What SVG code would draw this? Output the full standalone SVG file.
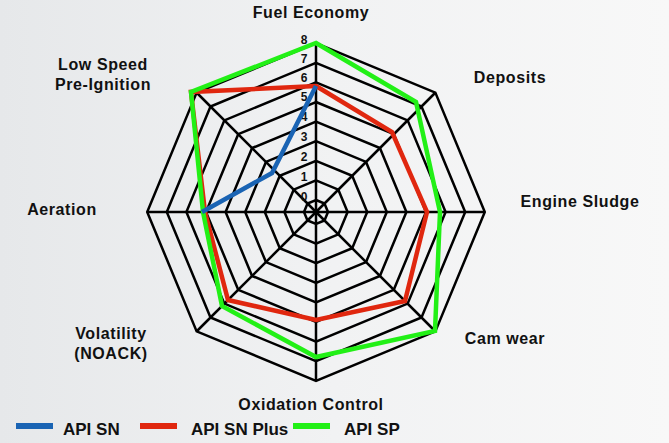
<svg xmlns="http://www.w3.org/2000/svg" width="669" height="443" viewBox="0 0 669 443">
<defs>
<linearGradient id="bg" x1="0" y1="0" x2="1" y2="0"><stop offset="0" stop-color="#e6e8ea"/><stop offset="0.5" stop-color="#f1f2f3"/><stop offset="1" stop-color="#f8f8f8"/></linearGradient>
</defs>
<style>
.ring{fill:none;stroke:#000;stroke-width:2.5}
.spoke{stroke:#000;stroke-width:2.5}
.lbl{font-family:"Liberation Sans",Arial,sans-serif;font-weight:bold;font-size:16px;letter-spacing:0.6px;fill:#111}
.leg{font-family:"Liberation Sans",Arial,sans-serif;font-weight:bold;font-size:17px;fill:#111}
.tick{font-family:"Liberation Sans",Arial,sans-serif;font-weight:bold;font-size:12px;fill:#111;text-anchor:middle}
.ser{fill:none;stroke-width:4.5;stroke-linejoin:miter}
</style>
<rect width="669" height="443" fill="url(#bg)"/>
<g id="grid" transform="translate(316,212)">
<polygon class="ring" points="0,-12 8.49,-8.49 12,0 8.49,8.49 0,12 -8.49,8.49 -12,0 -8.49,-8.49"/>
<polygon class="ring" points="0,-31.6 22.34,-22.34 31.6,0 22.34,22.34 0,31.6 -22.34,22.34 -31.6,0 -22.34,-22.34"/>
<polygon class="ring" points="0,-51.2 36.2,-36.2 51.2,0 36.2,36.2 0,51.2 -36.2,36.2 -51.2,0 -36.2,-36.2"/>
<polygon class="ring" points="0,-70.8 50.06,-50.06 70.8,0 50.06,50.06 0,70.8 -50.06,50.06 -70.8,0 -50.06,-50.06"/>
<polygon class="ring" points="0,-90.4 63.92,-63.92 90.4,0 63.92,63.92 0,90.4 -63.92,63.92 -90.4,0 -63.92,-63.92"/>
<polygon class="ring" points="0,-110 77.78,-77.78 110,0 77.78,77.78 0,110 -77.78,77.78 -110,0 -77.78,-77.78"/>
<polygon class="ring" points="0,-129.6 91.64,-91.64 129.6,0 91.64,91.64 0,129.6 -91.64,91.64 -129.6,0 -91.64,-91.64"/>
<polygon class="ring" points="0,-149.2 105.5,-105.5 149.2,0 105.5,105.5 0,149.2 -105.5,105.5 -149.2,0 -105.5,-105.5"/>
<polygon class="ring" points="0,-168.8 119.36,-119.36 168.8,0 119.36,119.36 0,168.8 -119.36,119.36 -168.8,0 -119.36,-119.36"/>
<line class="spoke" x1="0" y1="0" x2="0" y2="-169"/>
<line class="spoke" x1="0" y1="0" x2="119.5" y2="-119.5"/>
<line class="spoke" x1="0" y1="0" x2="169" y2="0"/>
<line class="spoke" x1="0" y1="0" x2="119.5" y2="119.5"/>
<line class="spoke" x1="0" y1="0" x2="0" y2="169"/>
<line class="spoke" x1="0" y1="0" x2="-119.5" y2="119.5"/>
<line class="spoke" x1="0" y1="0" x2="-169" y2="0"/>
<line class="spoke" x1="0" y1="0" x2="-119.5" y2="-119.5"/>
</g>
<g id="ticks">
<text class="tick" x="304" y="201">0</text>
<text class="tick" x="304" y="181">1</text>
<text class="tick" x="304" y="161">2</text>
<text class="tick" x="304" y="141">3</text>
<text class="tick" x="304" y="121">4</text>
<text class="tick" x="304" y="101">5</text>
<text class="tick" x="304" y="82">6</text>
<text class="tick" x="304" y="63">7</text>
<text class="tick" x="304" y="44">8</text>
</g>
<g id="connectors">
<polygon id="api-sn-plus" class="ser" stroke="#e0270f" points="316,86 392,132 427,212 405,301 316,320 228,300 205,212 191,92"/>
<polygon id="api-sp" class="ser" stroke="#22f016" points="316,43 416,102 440,212 435,331 316,357 222,306 203,212 191,92"/>
<polyline id="api-sn" class="ser" stroke="#1a64b4" points="316,86 272,173 202,212"/>
</g>
<g id="labels" class="lbl">
<text x="311" y="18" text-anchor="middle">Fuel Economy</text>
<text x="510" y="83" text-anchor="middle">Deposits</text>
<text x="580" y="207" text-anchor="middle">Engine Sludge</text>
<text x="505" y="344" text-anchor="middle">Cam wear</text>
<text x="311" y="410" text-anchor="middle">Oxidation Control</text>
<text x="111" y="339" text-anchor="middle">Volatility</text>
<text x="111" y="359" text-anchor="middle">(NOACK)</text>
<text x="62" y="215" text-anchor="middle">Aeration</text>
<text x="103" y="70" text-anchor="middle">Low Speed</text>
<text x="103" y="90" text-anchor="middle">Pre-Ignition</text>
</g>
<g id="legend">
<rect x="16" y="423" width="37" height="6" fill="#1a64b4"/>
<text class="leg" x="63" y="435">API SN</text>
<rect x="140" y="423" width="37" height="6" fill="#e0270f"/>
<text class="leg" x="191" y="435">API SN Plus</text>
<rect x="293" y="423" width="37" height="6" fill="#22f016"/>
<text class="leg" x="344" y="435">API SP</text>
</g>
</svg>
